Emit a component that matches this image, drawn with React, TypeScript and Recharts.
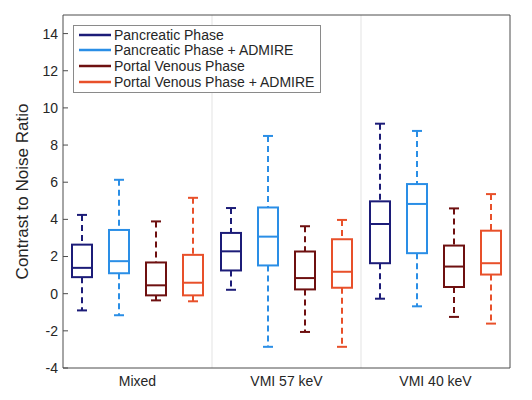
import { ComposedChart, Bar, XAxis, YAxis, Legend, ReferenceLine } from 'recharts'

const categories = ['Mixed', 'VMI 57 keV', 'VMI 40 keV']

const seriesNames = [
  'Pancreatic Phase',
  'Pancreatic Phase + ADMIRE',
  'Portal Venous Phase',
  'Portal Venous Phase + ADMIRE',
]

const COLORS = ['#1c1c78', '#2a8ee6', '#6e1010', '#e8502a']

// per series, one value per category
const whiskerLow = [
  [-0.9, 0.21, -0.27],
  [-1.16, -2.86, -0.68],
  [-0.36, -2.06, -1.25],
  [-0.41, -2.86, -1.61],
]
const q1 = [
  [0.89, 1.25, 1.64],
  [1.1, 1.52, 2.18],
  [-0.09, 0.23, 0.36],
  [-0.09, 0.32, 1.03],
]
const median = [
  [1.39, 2.28, 3.75],
  [1.75, 3.07, 4.83],
  [0.45, 0.84, 1.46],
  [0.59, 1.18, 1.64],
]
const q3 = [
  [2.64, 3.27, 4.97],
  [3.43, 4.64, 5.9],
  [1.68, 2.27, 2.59],
  [2.09, 2.93, 3.39],
]
const whiskerHigh = [
  [4.24, 4.61, 9.15],
  [6.13, 8.49, 8.76],
  [3.89, 3.63, 4.59],
  [5.16, 3.97, 5.36],
]

const yTicks = [-4, -2, 0, 2, 4, 6, 8, 10, 12, 14]
const separators = [1, 2]

const data = categories.map((name, c) => {
  const row: any = { name, pos: c + 0.5 }
  seriesNames.forEach((_, s) => {
    row['r' + s] = [whiskerLow[s][c], whiskerHigh[s][c]]
  })
  return row
})

const FONT = '"Liberation Sans", Arial, sans-serif'
const AXIS = '#4d4d4d'

function makeBox(s: number) {
  return (props: any) => {
    const { x, y, width, height, index } = props
    const lo = whiskerLow[s][index]
    const hi = whiskerHigh[s][index]
    const top = Math.min(y, y + height)
    const h = Math.abs(height)
    const pix = (v: number) => top + ((hi - v) / (hi - lo)) * h
    const cx = x + width / 2
    const color = COLORS[s]
    const yq3 = pix(q3[s][index])
    const yq1 = pix(q1[s][index])
    const ymed = pix(median[s][index])
    const yhi = pix(hi)
    const ylo = pix(lo)
    return (
      <g>
        <line x1={cx} x2={cx} y1={yhi} y2={yq3} stroke={color} strokeWidth={2} strokeDasharray="6 4" />
        <line x1={cx} x2={cx} y1={yq1} y2={ylo} stroke={color} strokeWidth={2} strokeDasharray="6 4" />
        <line x1={cx - 5} x2={cx + 5} y1={yhi} y2={yhi} stroke={color} strokeWidth={2} />
        <line x1={cx - 5} x2={cx + 5} y1={ylo} y2={ylo} stroke={color} strokeWidth={2} />
        <rect x={x} y={yq3} width={width} height={yq1 - yq3} fill="white" stroke={color} strokeWidth={2} />
        <line x1={x} x2={x + width} y1={ymed} y2={ymed} stroke={color} strokeWidth={2} />
      </g>
    )
  }
}

function renderLegend() {
  return (
    <div
      style={{
        border: '1px solid #8a8a8a',
        background: 'white',
        padding: '1px 6px 3px 5px',
        fontFamily: FONT,
        fontSize: 14,
        color: '#262626',
      }}
    >
      {seriesNames.map((n, i) => (
        <div key={n} style={{ display: 'flex', alignItems: 'center', height: 15.6 }}>
          <svg width={32} height={4} style={{ marginRight: 3 }}>
            <line x1={0} x2={32} y1={2} y2={2} stroke={COLORS[i]} strokeWidth={2.5} />
          </svg>
          <span style={{ whiteSpace: 'nowrap' }}>{n}</span>
        </div>
      ))}
    </div>
  )
}

export default function App() {
  return (
    <div style={{ position: 'absolute', left: 0, top: 0, background: 'white' }}>
      <ComposedChart
        width={532}
        height={400}
        data={data}
        margin={{ top: 14, right: 21, bottom: 0, left: 0 }}
        barSize={20}
        barGap={17}
      >
        <XAxis
          xAxisId="cat"
          dataKey="name"
          type="category"
          height={32}
          tickLine={false}
          axisLine={{ stroke: AXIS }}
          tick={{ fontSize: 14, fill: '#262626', fontFamily: FONT }}
        />
        <XAxis
          xAxisId="top"
          orientation="top"
          dataKey="pos"
          type="number"
          domain={[0, 3]}
          allowDataOverflow
          ticks={separators}
          height={1}
          tick={false}
          tickSize={-5}
          axisLine={{ stroke: AXIS }}
          tickLine={{ stroke: AXIS }}
        />
        <YAxis
          yAxisId="l"
          type="number"
          domain={[-4, 15]}
          ticks={yTicks}
          width={63}
          tickSize={-5}
          tickMargin={10}
          axisLine={{ stroke: AXIS }}
          tickLine={{ stroke: AXIS }}
          tick={{ fontSize: 14, fill: '#262626', fontFamily: FONT }}
          label={{
            value: 'Contrast to Noise Ratio',
            angle: -90,
            position: 'insideLeft',
            offset: 22,
            style: { textAnchor: 'middle', fontSize: 17, fill: '#262626', fontFamily: FONT },
          }}
        />
        <YAxis
          yAxisId="r"
          orientation="right"
          type="number"
          domain={[-4, 15]}
          ticks={yTicks}
          width={1}
          tick={false}
          tickSize={-5}
          axisLine={{ stroke: AXIS }}
          tickLine={{ stroke: AXIS }}
        />
        {separators.map((v) => (
          <ReferenceLine key={v} xAxisId="top" yAxisId="l" x={v} stroke="#e3e3e3" />
        ))}
        <Legend
          layout="vertical"
          align="center"
          verticalAlign="middle"
          content={renderLegend}
          wrapperStyle={{ position: 'absolute', left: 73, top: 25, width: 'auto' }}
        />
        {seriesNames.map((n, s) => (
          <Bar
            key={n}
            xAxisId="cat"
            yAxisId="l"
            dataKey={'r' + s}
            name={n}
            fill={COLORS[s]}
            shape={makeBox(s)}
            isAnimationActive={false}
          />
        ))}
      </ComposedChart>
    </div>
  )
}
